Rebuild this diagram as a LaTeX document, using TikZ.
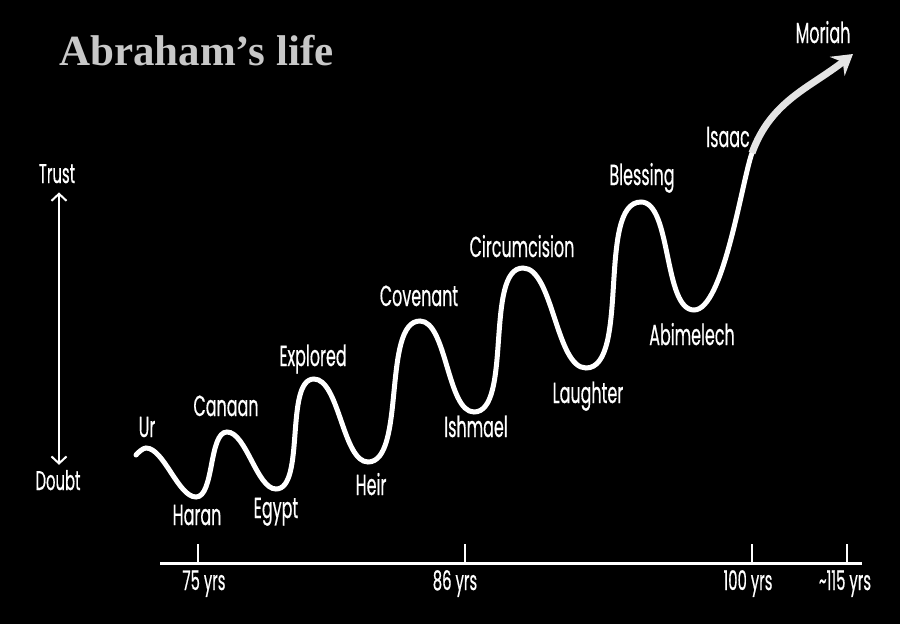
\documentclass[tikz,border=0pt]{standalone}
\usepackage{fontspec}
\setmainfont{Liberation Serif}
\newfontfamily\lblfont[FakeStretch=0.55,FakeBold=0.4]{Poppins}
\usetikzlibrary{positioning,arrows.meta}

\begin{document}
\begin{tikzpicture}[x=1pt,y=-1pt,
  lbl/.style={text=white,inner sep=0pt,anchor=base,font=\lblfont\fontsize{29}{32}\selectfont},
  small/.style={lbl,font=\lblfont\fontsize{27}{30}\selectfont},
  wave/.style={white,line width=5pt,line cap=round,looseness=0.65},
  tick/.style={white,line width=2pt}]
\fill[black] (0,0) rectangle (900,624);
\node[anchor=base west,inner sep=0pt,text={rgb,255:red,200;green,200;blue,200},font=\bfseries\fontsize{43}{48}\selectfont] (title) at (59,65) {Abraham’s life};

% trust / doubt scale
\node[small] (trust) at (57,183) {Trust};
\node[small] (doubt) at (58,490) {Doubt};
\draw[white,line width=2pt,shorten <=9pt,shorten >=5pt,{Straight Barb[length=7pt,width=15pt]}-{Straight Barb[length=7pt,width=15pt]}] ([xshift=2pt]trust.south) -- ([xshift=2pt]trust.south |- doubt.north);

% turning points of the life line
\coordinate (s) at (136,455);
\coordinate (ur) at (146,448);
\coordinate (haran) at (196,497);
\coordinate (canaan) at (227,432);
\coordinate (egypt) at (276,489);
\coordinate (explored) at (314,379);
\coordinate (heir) at (368,462);
\coordinate (covenant) at (420,321);
\coordinate (ishmael) at (474,412);
\coordinate (circ) at (523,268);
\coordinate (laughter) at (586,368);
\coordinate (blessing) at (641,202);
\coordinate (abimelech) at (694,310);
\coordinate (isaac) at (752,153);
\coordinate (moriah) at (853,54);

\draw[wave] (s) to[out=50,in=180] (ur)
  \foreach \b in {haran,canaan,egypt,explored,heir,covenant,ishmael,circ,laughter,blessing,abimelech} {to[out=0,in=180] (\b)}
  to[out=0,in=250,looseness=0.45] (isaac);
\draw[line width=7pt,color={rgb,255:red,228;green,228;blue,228},-{Stealth[length=20pt,width=24pt,inset=7pt]}] (isaac) to[out=70,in=218] (moriah);

\node[lbl] (urL) at (147,437) {Ur};
\node[lbl] (haranL) at (197,525) {Haran};
\node[lbl] (canaanL) at (226,416) {Canaan};
\node[lbl] (egyptL) at (276,518) {Egypt};
\node[lbl] (exploredL) at (313,366) {Explored};
\node[lbl] (heirL) at (371,495) {Heir};
\node[lbl] (covenantL) at (419,306) {Covenant};
\node[lbl] (ishmaelL) at (476,437) {Ishmael};
\node[lbl] (circL) at (522,257) {Circumcision};
\node[lbl] (laughterL) at (588,403) {Laughter};
\node[lbl] (blessingL) at (642,185) {Blessing};
\node[lbl] (abimelechL) at (692,345) {Abimelech};
\node[lbl] (isaacL) at (728,147) {Isaac};
\node[lbl] (moriahL) at (823,43) {Moriah};

% time axis
\coordinate (ax0) at (160,563);
\coordinate (ax1) at (862,563);
\draw[white,line width=3pt] (ax0) -- (ax1);
\foreach \x/\lx/\t [count=\i] in {198/204/75 yrs,465/455/86 yrs,752/748/100 yrs,847/845/\textasciitilde115 yrs} {
  \draw[tick] (\x,563) -- (\x,544);
  \node[small] (yr\i) at (\lx,590) {\t};
}
\end{tikzpicture}
\end{document}
